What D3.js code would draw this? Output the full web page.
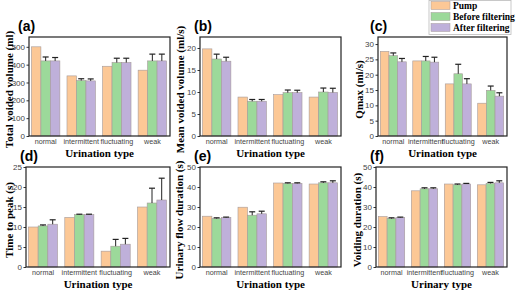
<!DOCTYPE html>
<html>
<head>
<meta charset="utf-8">
<script src="https://cdn.jsdelivr.net/npm/d3@7"></script>
<style>
  body { margin: 0; background: #fff; }
  svg { display: block; }
</style>
</head>
<body>
<div id="container"></div>
<script>
// categories and series
let categories = ["normal", "intermittent", "fluctuating", "weak"];
let seriesNames = ["Pump", "Before filtering", "After filtering"];
let colors = ["#fcc896", "#9cd99a", "#bfb0da"];

// (a) total voided volume, ml  -> [pump, before, after] per category
let totalVolume = [[500, 421, 421], [337, 311, 309], [391, 412, 412], [369, 421, 421]];
let totalVolumeErr = [[0, 22, 19], [0, 10, 11], [0, 24, 24], [0, 38, 38]];

// (b) mean voided volume, ml/s
let meanVolume = [[19.8, 17.5, 17.0], [8.85, 7.9, 7.9], [9.4, 9.85, 9.85], [8.85, 10.0, 9.9]];
let meanVolumeErr = [[0, 1.1, 0.9], [0, 0.4, 0.4], [0, 0.6, 0.55], [0, 0.9, 0.95]];

// (c) Qmax, ml/s
let qmax = [[27.6, 26.2, 24.2], [24.5, 24.5, 24.1], [17.0, 20.3, 17.0], [10.7, 14.9, 13.0]];
let qmaxErr = [[0, 0.9, 1.1], [0, 1.45, 1.6], [0, 3.1, 1.7], [0, 1.4, 1.1]];

// (d) time to peak, s
let timeToPeak = [[10.0, 10.27, 10.7], [12.4, 13.1, 13.1], [3.96, 5.2, 5.7], [15.0, 16.0, 16.75]];
let timeToPeakErr = [[0, 0.25, 1.1], [0, 0.1, 0.1], [0, 1.7, 1.45], [0, 3.7, 5.45]];

// (e) urinary flow duration, s
let flowDuration = [[25.4, 24.2, 24.7], [29.9, 25.9, 26.6], [42.0, 41.8, 41.8], [41.5, 42.1, 42.1]];
let flowDurationErr = [[0, 0.4, 0.25], [0, 1.7, 1.3], [0, 0.3, 0.3], [0, 0.5, 1.0]];

// (f) voiding duration, s
let voidDuration = [[25.2, 24.2, 24.7], [38.1, 39.1, 39.1], [41.5, 41.1, 41.5], [41.1, 41.8, 42.1]];
let voidDurationErr = [[0, 0.4, 0.25], [0, 0.5, 0.5], [0, 0.4, 0.3], [0, 0.5, 1.0]];

let w = 520;
let h = 292;

let viz = d3.select("#container")
  .append("svg")
    .attr("width", w)
    .attr("height", h)
;

// panel layout (frame box) + y axis setup
let panels = [
  {tag: "(a)", values: totalVolume, errs: totalVolumeErr, yMax: 555, ticks: d3.range(0, 501, 100),
   ylabel: "Total voided volume (ml)", xlabel: "Urination type", x0: 29, x1: 170, y0: 37, y1: 136, lx: 9, tagX: 18},
  {tag: "(b)", values: meanVolume, errs: meanVolumeErr, yMax: 22.5, ticks: d3.range(0, 21, 5),
   ylabel: "Mean voided volume (ml/s)", xlabel: "Urination type", x0: 200, x1: 341, y0: 37, y1: 136, lx: 180, tagX: 194},
  {tag: "(c)", values: qmax, errs: qmaxErr, yMax: 32.3, ticks: d3.range(0, 31, 5),
   ylabel: "Qmax (ml/s)", xlabel: "Urination type", x0: 378, x1: 507, y0: 37, y1: 136, lx: 359, tagX: 370},
  {tag: "(d)", values: timeToPeak, errs: timeToPeakErr, yMax: 25, ticks: d3.range(0, 26, 5),
   ylabel: "Time to peak (s)", xlabel: "Urination type", x0: 26, x1: 170, y0: 167, y1: 267, lx: 9, tagX: 20},
  {tag: "(e)", values: flowDuration, errs: flowDurationErr, yMax: 50, ticks: d3.range(0, 51, 10),
   ylabel: "Urinary flow duration (s)", xlabel: "Urination type", x0: 200, x1: 341, y0: 167, y1: 267, lx: 179, tagX: 194},
  {tag: "(f)", values: voidDuration, errs: voidDurationErr, yMax: 50, ticks: d3.range(0, 51, 10),
   ylabel: "Voiding duration (s)", xlabel: "Urinary type", x0: 376, x1: 507, y0: 167, y1: 267, lx: 357, tagX: 370}
];

panels.forEach(function(p){
  let g = viz.append("g").classed("panel", true);

  let xScale = d3.scaleBand()
    .domain(categories)
    .range([p.x0 + 1, p.x1 - 2])
    .paddingInner(0.2)
    .paddingOuter(0.04)
  ;
  let xInner = d3.scaleBand()
    .domain(d3.range(seriesNames.length))
    .range([0, xScale.bandwidth()])
  ;
  let yScale = d3.scaleLinear().domain([0, p.yMax]).range([p.y1, p.y0]);

  // bars
  categories.forEach(function(c, ci){
    let grp = g.append("g").attr("transform", "translate(" + xScale(c) + ",0)");
    grp.selectAll("rect")
      .data(p.values[ci])
      .enter()
      .append("rect")
        .attr("x", (d, i) => xInner(i))
        .attr("width", xInner.bandwidth())
        .attr("y", d => yScale(d))
        .attr("height", d => p.y1 - yScale(d))
        .attr("fill", (d, i) => colors[i])
        .attr("stroke", "#a59a9a")
        .attr("stroke-width", 0.6)
    ;
    // error bars (up only)
    p.errs[ci].forEach(function(e, i){
      if (e <= 0) return;
      let cx = xInner(i) + xInner.bandwidth() / 2;
      let top = yScale(p.values[ci][i] + e);
      grp.append("line")
        .attr("x1", cx).attr("x2", cx)
        .attr("y1", yScale(p.values[ci][i])).attr("y2", top)
        .attr("stroke", "#222").attr("stroke-width", 1);
      grp.append("line")
        .attr("x1", cx - 3).attr("x2", cx + 3)
        .attr("y1", top).attr("y2", top)
        .attr("stroke", "#222").attr("stroke-width", 1.2);
    });
  });

  // y axis
  let yAxis = d3.axisLeft(yScale).tickValues(p.ticks).tickSize(2.5).tickPadding(1.5);
  let yAxisGroup = g.append("g").attr("transform", "translate(" + p.x0 + ",0)").call(yAxis);
  yAxisGroup.select(".domain").remove();
  yAxisGroup.selectAll("text")
    .attr("font-family", "Liberation Sans, Arial, sans-serif")
    .attr("font-size", 8)
    .attr("fill", "#444");
  yAxisGroup.selectAll("line").attr("stroke", "#333");

  // x axis labels
  let xAxis = d3.axisBottom(xScale).tickSize(0).tickPadding(3);
  let xAxisGroup = g.append("g").attr("transform", "translate(0," + p.y1 + ")").call(xAxis);
  xAxisGroup.select(".domain").remove();
  xAxisGroup.selectAll("text")
    .attr("font-family", "Liberation Sans, Arial, sans-serif")
    .attr("font-size", 7.2)
    .attr("fill", "#444");

  // frame
  g.append("rect")
    .attr("x", p.x0).attr("y", p.y0)
    .attr("width", p.x1 - p.x0).attr("height", p.y1 - p.y0)
    .attr("fill", "none").attr("stroke", "#222").attr("stroke-width", 1.2);

  // x title
  g.append("text")
    .attr("x", (p.x0 + p.x1) / 2)
    .attr("y", p.y1 + 21)
    .attr("text-anchor", "middle")
    .attr("font-family", "Liberation Serif, Times New Roman, serif")
    .attr("font-weight", "bold")
    .attr("font-size", 11)
    .text(p.xlabel);

  // y title
  g.append("text")
    .attr("transform", "translate(" + (p.lx + 4) + "," + ((p.y0 + p.y1) / 2 + 3) + ") rotate(-90)")
    .attr("text-anchor", "middle")
    .attr("font-family", "Liberation Serif, Times New Roman, serif")
    .attr("font-weight", "bold")
    .attr("font-size", 11)
    .text(p.ylabel);

  // panel tag
  g.append("text")
    .attr("x", p.tagX)
    .attr("y", p.y0 - 6)
    .attr("font-family", "Liberation Sans, Arial, sans-serif")
    .attr("font-weight", "bold")
    .attr("font-size", 14)
    .text(p.tag);
});

// legend
let legend = viz.append("g").classed("legend", true);
legend.append("rect")
  .attr("x", 429).attr("y", 0.5).attr("width", 82).attr("height", 34)
  .attr("fill", "#fff").attr("stroke", "#bbb").attr("stroke-width", 0.8);
seriesNames.forEach(function(s, i){
  legend.append("rect")
    .attr("x", 431).attr("y", 1.5 + i * 11)
    .attr("width", 19).attr("height", 8)
    .attr("fill", colors[i]).attr("stroke", "#a59a9a").attr("stroke-width", 0.5);
  legend.append("text")
    .attr("x", 453).attr("y", 9 + i * 11)
    .attr("font-family", "Liberation Serif, Times New Roman, serif")
    .attr("font-weight", "bold")
    .attr("font-size", 9.5)
    .text(s);
});
</script>
</body>
</html>
